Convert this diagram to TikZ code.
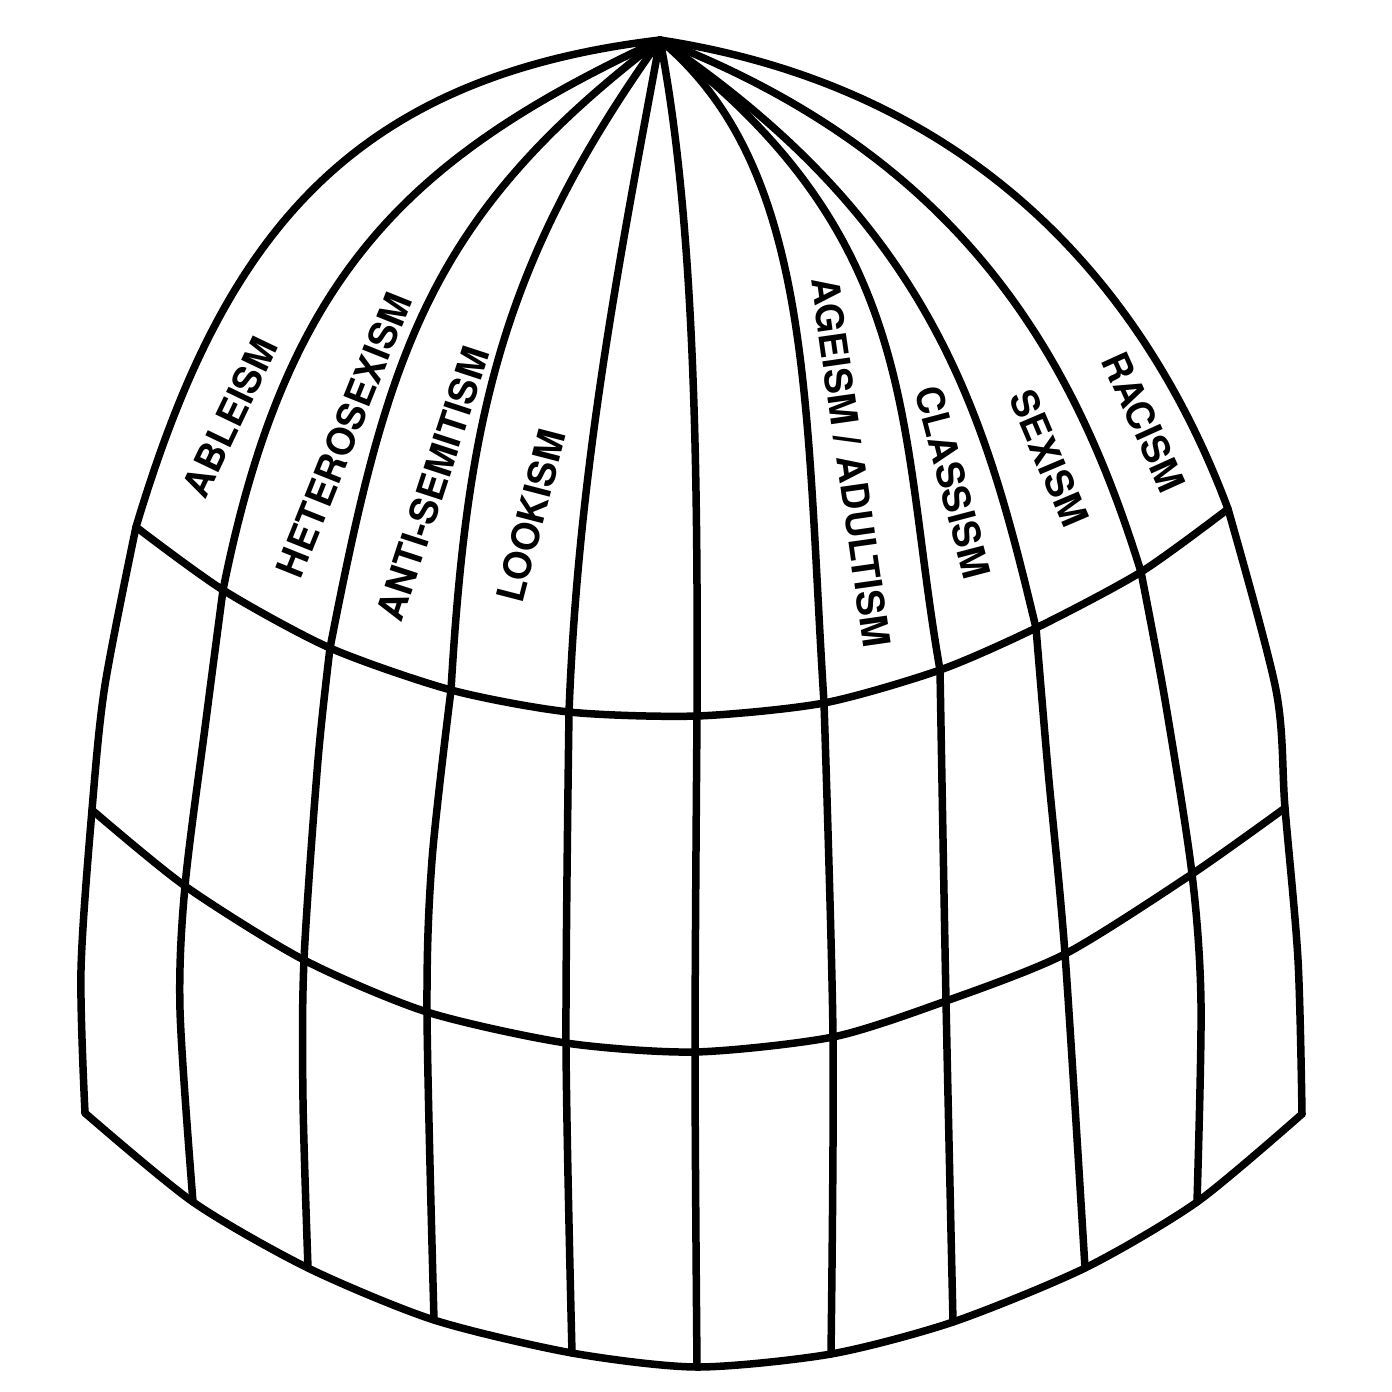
\documentclass[tikz,border=0pt]{standalone}
\usepackage{fontspec}
\setmainfont{TeX Gyre Heros}
\begin{document}
\begin{tikzpicture}[x=1pt,y=-1pt,
  wire/.style={line width=7.5pt,line join=round,line cap=round},
  lab/.style={font=\fontsize{38}{40}\selectfont\bfseries,inner sep=0pt}]
\useasboundingbox[fill=white] (0,0) rectangle (1392,1392);
% apex
\coordinate (A) at (660,40);
% upper band
\coordinate (T0) at (136,527);
\coordinate (T1) at (223,590);
\coordinate (T2) at (330,648);
\coordinate (T3) at (451,690);
\coordinate (T4) at (569,712);
\coordinate (T5) at (697,716);
\coordinate (T6) at (824,703);
\coordinate (T7) at (940,670);
\coordinate (T8) at (1036,628);
\coordinate (T9) at (1141,572);
\coordinate (T10) at (1228,509);
% middle band
\coordinate (M0) at (92,810);
\coordinate (M1) at (185,886);
\coordinate (M2) at (304,960);
\coordinate (M3) at (427,1012);
\coordinate (M4) at (566,1043);
\coordinate (M5) at (695,1052);
\coordinate (M6) at (833,1037);
\coordinate (M7) at (946,1001);
\coordinate (M8) at (1065,954);
\coordinate (M9) at (1192,874);
\coordinate (M10) at (1285,808);
% bottom
\coordinate (B0) at (85,1113);
\coordinate (B1) at (193,1202);
\coordinate (B2) at (308,1268);
\coordinate (B3) at (434,1320);
\coordinate (B4) at (572,1353);
\coordinate (B5) at (697,1367);
\coordinate (B6) at (831,1354);
\coordinate (B7) at (953,1322);
\coordinate (B8) at (1085,1268);
\coordinate (B9) at (1197,1202);
\coordinate (B10) at (1302,1114);

% meridians: smooth arc from the apex to the upper band, then down
\draw[wire] (A) .. controls (340,78) and (220,247) .. (T0)
  -- plot[smooth] coordinates {(T0) (105,685) (M0) (81,970) (B0)};
\draw[wire] (A) .. controls (406,158) and (286,276) .. (T1)
  -- plot[smooth] coordinates {(T1) (206,720) (M1) (180,1010) (B1)};
\draw[wire] (A) .. controls (430,215) and (388,350) .. (T2)
  -- plot[smooth] coordinates {(T2) (318,760) (M2) (303,1100) (B2)};
\draw[wire] (A) .. controls (502,261) and (467,417) .. (T3)
  -- plot[smooth] coordinates {(T3) (432,860) (M3) (B3)};
\draw[wire] (A) .. controls (617,272) and (578,475) .. (T4)
  -- plot[smooth] coordinates {(T4) (M4) (B4)};
\draw[wire] (A) .. controls (695,220) and (698,470) .. (T5)
  -- plot[smooth] coordinates {(T5) (M5) (B5)};
\draw[wire] (A) .. controls (814,168) and (805,403) .. (T6)
  -- plot[smooth] coordinates {(T6) (M6) (B6)};
\draw[wire] (A) .. controls (924,238) and (897,424) .. (T7)
  -- plot[smooth] coordinates {(T7) (M7) (B7)};
\draw[wire] (A) .. controls (934,225) and (985,415) .. (T8)
  -- plot[smooth] coordinates {(T8) (1048,770) (M8) (B8)};
\draw[wire] (A) .. controls (967,159) and (1076,362) .. (T9)
  -- plot[smooth] coordinates {(T9) (1165,700) (M9) (1201,1004) (B9)};
\draw[wire] (A) .. controls (987,90) and (1151,302) .. (T10)
  -- plot[smooth] coordinates {(T10) (1276,690) (M10) (1298,960) (B10)};

% bands
\draw[wire] plot[smooth,tension=0.45] coordinates {(T0) (T1) (T2) (T3) (T4) (T5) (T6) (T7) (T8) (T9) (T10)};
\draw[wire] plot[smooth,tension=0.45] coordinates {(M0) (M1) (M2) (M3) (M4) (M5) (M6) (M7) (M8) (M9) (M10)};
\draw[wire] plot[smooth,tension=0.45] coordinates {(B0) (B1) (B2) (B3) (B4) (B5) (B6) (B7) (B8) (B9) (B10)};

% labels
\node[lab,rotate=64.4] (ableism) at (230,417) {ABLEISM};
\node[lab,rotate=68.2] (hetero) at (344,435) {HETEROSEXISM};
\node[lab,rotate=71.9] (antisem) at (433,484) {ANTI-SEMITISM};
\node[lab,rotate=75.5] (lookism) at (531,516) {LOOKISM};
\node[lab,rotate=-81.9] (ageism) at (851,462) {AGEISM / ADULTISM};
\node[lab,rotate=-75.3] (classism) at (953,482) {CLASSISM};
\node[lab,rotate=-66.9] (sexism) at (1049,458) {SEXISM};
\node[lab,rotate=-65.7] (racism) at (1144,422) {RACISM};
\end{tikzpicture}
\end{document}
